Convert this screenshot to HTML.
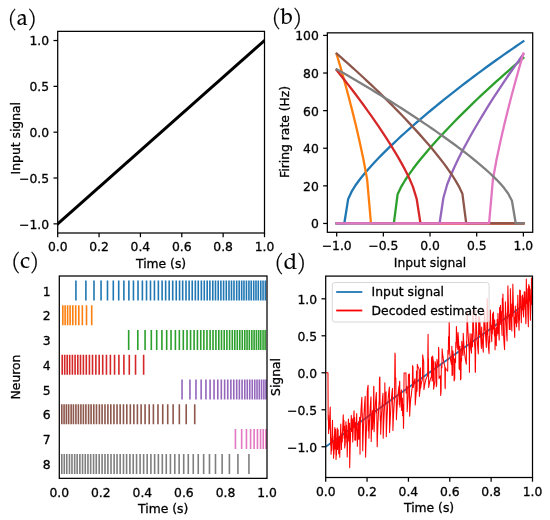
<!DOCTYPE html>
<html><head><meta charset="utf-8"><style>html,body{margin:0;padding:0;background:#fff;}svg{display:block;}</style></head>
<body>
<svg width="550" height="520" viewBox="0 0 550 520" font-family="DejaVu Sans, sans-serif" font-size="12.35">
<style>text{fill:#000;stroke:#000;stroke-width:0.3px;}</style>
<rect width="550" height="520" fill="#fff"/>
<clipPath id="ca"><rect x="57.7" y="31.35" width="206.8" height="201.65"/></clipPath>
<g clip-path="url(#ca)"><path d="M57.70 223.83 L264.50 40.52" stroke="#000" stroke-width="3" fill="none" stroke-linecap="square"/></g>
<rect x="57.7" y="31.35" width="206.8" height="201.65" fill="none" stroke="#000" stroke-width="1.25" stroke-linejoin="miter"/>
<line x1="57.7" y1="233" x2="57.7" y2="237.2" stroke="#000" stroke-width="1.25"/>
<text x="57.7" y="251" text-anchor="middle">0.0</text>
<line x1="99.06" y1="233" x2="99.06" y2="237.2" stroke="#000" stroke-width="1.25"/>
<text x="99.06" y="251" text-anchor="middle">0.2</text>
<line x1="140.42" y1="233" x2="140.42" y2="237.2" stroke="#000" stroke-width="1.25"/>
<text x="140.42" y="251" text-anchor="middle">0.4</text>
<line x1="181.78" y1="233" x2="181.78" y2="237.2" stroke="#000" stroke-width="1.25"/>
<text x="181.78" y="251" text-anchor="middle">0.6</text>
<line x1="223.14" y1="233" x2="223.14" y2="237.2" stroke="#000" stroke-width="1.25"/>
<text x="223.14" y="251" text-anchor="middle">0.8</text>
<line x1="264.5" y1="233" x2="264.5" y2="237.2" stroke="#000" stroke-width="1.25"/>
<text x="264.5" y="251" text-anchor="middle">1.0</text>
<line x1="53.5" y1="223.83" x2="57.7" y2="223.83" stroke="#000" stroke-width="1.25"/>
<text x="49.1" y="228.73" text-anchor="end">−1.0</text>
<line x1="53.5" y1="178" x2="57.7" y2="178" stroke="#000" stroke-width="1.25"/>
<text x="49.1" y="182.9" text-anchor="end">−0.5</text>
<line x1="53.5" y1="132.18" x2="57.7" y2="132.18" stroke="#000" stroke-width="1.25"/>
<text x="49.1" y="137.08" text-anchor="end">0.0</text>
<line x1="53.5" y1="86.35" x2="57.7" y2="86.35" stroke="#000" stroke-width="1.25"/>
<text x="49.1" y="91.25" text-anchor="end">0.5</text>
<line x1="53.5" y1="40.52" x2="57.7" y2="40.52" stroke="#000" stroke-width="1.25"/>
<text x="49.1" y="45.42" text-anchor="end">1.0</text>
<text x="161.1" y="267.8" text-anchor="middle">Time (s)</text>
<text transform="translate(20.4,138.2) rotate(-90)" text-anchor="middle">Input signal</text>
<clipPath id="cb"><rect x="327.35" y="32.85" width="205.35" height="199.45"/></clipPath>
<g clip-path="url(#cb)" fill="none" stroke-width="2.3" stroke-linecap="square" stroke-linejoin="round">
<path d="M336.68 223.46 L340.49 223.46 L344.30 223.46 L348.11 199.35 L351.92 191.07 L355.73 184.98 L359.54 179.72 L363.35 174.92 L367.16 170.42 L370.97 166.14 L374.78 162.03 L378.59 158.04 L382.40 154.17 L386.21 150.38 L390.02 146.68 L393.83 143.05 L397.64 139.48 L401.45 135.97 L405.26 132.51 L409.07 129.10 L412.88 125.74 L416.69 122.42 L420.50 119.13 L424.31 115.89 L428.12 112.68 L431.93 109.50 L435.74 106.36 L439.55 103.25 L443.36 100.17 L447.17 97.12 L450.98 94.09 L454.79 91.10 L458.60 88.13 L462.41 85.19 L466.22 82.27 L470.03 79.38 L473.84 76.51 L477.65 73.67 L481.46 70.85 L485.27 68.05 L489.08 65.28 L492.89 62.52 L496.70 59.79 L500.51 57.08 L504.32 54.39 L508.13 51.72 L511.94 49.07 L515.75 46.44 L519.56 43.83 L523.37 41.24" stroke="#1f77b4"/>
<path d="M336.68 54.21 L340.49 67.19 L344.30 80.67 L348.11 94.71 L351.92 109.37 L355.73 124.79 L359.54 141.16 L363.35 158.94 L367.16 179.63 L370.97 223.46 L374.78 223.46 L378.59 223.46 L382.40 223.46 L386.21 223.46 L390.02 223.46 L393.83 223.46 L397.64 223.46 L401.45 223.46 L405.26 223.46 L409.07 223.46 L412.88 223.46 L416.69 223.46 L420.50 223.46 L424.31 223.46 L428.12 223.46 L431.93 223.46 L435.74 223.46 L439.55 223.46 L443.36 223.46 L447.17 223.46 L450.98 223.46 L454.79 223.46 L458.60 223.46 L462.41 223.46 L466.22 223.46 L470.03 223.46 L473.84 223.46 L477.65 223.46 L481.46 223.46 L485.27 223.46 L489.08 223.46 L492.89 223.46 L496.70 223.46 L500.51 223.46 L504.32 223.46 L508.13 223.46 L511.94 223.46 L515.75 223.46 L519.56 223.46 L523.37 223.46" stroke="#ff7f0e"/>
<path d="M336.68 223.46 L340.49 223.46 L344.30 223.46 L348.11 223.46 L351.92 223.46 L355.73 223.46 L359.54 223.46 L363.35 223.46 L367.16 223.46 L370.97 223.46 L374.78 223.46 L378.59 223.46 L382.40 223.46 L386.21 223.46 L390.02 223.46 L393.83 223.46 L397.64 194.14 L401.45 186.34 L405.26 180.00 L409.07 174.32 L412.88 169.06 L416.69 164.07 L420.50 159.29 L424.31 154.67 L428.12 150.19 L431.93 145.82 L435.74 141.54 L439.55 137.35 L443.36 133.23 L447.17 129.19 L450.98 125.20 L454.79 121.28 L458.60 117.41 L462.41 113.59 L466.22 109.82 L470.03 106.10 L473.84 102.42 L477.65 98.78 L481.46 95.19 L485.27 91.63 L489.08 88.11 L492.89 84.63 L496.70 81.18 L500.51 77.77 L504.32 74.39 L508.13 71.04 L511.94 67.73 L515.75 64.45 L519.56 61.20 L523.37 57.97" stroke="#2ca02c"/>
<path d="M336.68 70.20 L340.49 74.93 L344.30 79.73 L348.11 84.59 L351.92 89.53 L355.73 94.54 L359.54 99.63 L363.35 104.80 L367.16 110.06 L370.97 115.41 L374.78 120.86 L378.59 126.42 L382.40 132.10 L386.21 137.92 L390.02 143.89 L393.83 150.04 L397.64 156.42 L401.45 163.08 L405.26 170.14 L409.07 177.81 L412.88 186.62 L416.69 198.95 L420.50 223.46 L424.31 223.46 L428.12 223.46 L431.93 223.46 L435.74 223.46 L439.55 223.46 L443.36 223.46 L447.17 223.46 L450.98 223.46 L454.79 223.46 L458.60 223.46 L462.41 223.46 L466.22 223.46 L470.03 223.46 L473.84 223.46 L477.65 223.46 L481.46 223.46 L485.27 223.46 L489.08 223.46 L492.89 223.46 L496.70 223.46 L500.51 223.46 L504.32 223.46 L508.13 223.46 L511.94 223.46 L515.75 223.46 L519.56 223.46 L523.37 223.46" stroke="#d62728"/>
<path d="M336.68 223.46 L340.49 223.46 L344.30 223.46 L348.11 223.46 L351.92 223.46 L355.73 223.46 L359.54 223.46 L363.35 223.46 L367.16 223.46 L370.97 223.46 L374.78 223.46 L378.59 223.46 L382.40 223.46 L386.21 223.46 L390.02 223.46 L393.83 223.46 L397.64 223.46 L401.45 223.46 L405.26 223.46 L409.07 223.46 L412.88 223.46 L416.69 223.46 L420.50 223.46 L424.31 223.46 L428.12 223.46 L431.93 223.46 L435.74 223.46 L439.55 223.46 L443.36 197.97 L447.17 184.53 L450.98 174.78 L454.79 166.23 L458.60 158.32 L462.41 150.84 L466.22 143.67 L470.03 136.75 L473.84 130.03 L477.65 123.49 L481.46 117.10 L485.27 110.85 L489.08 104.73 L492.89 98.73 L496.70 92.83 L500.51 87.04 L504.32 81.35 L508.13 75.75 L511.94 70.24 L515.75 64.81 L519.56 59.47 L523.37 54.21" stroke="#9467bd"/>
<path d="M336.68 53.65 L340.49 56.96 L344.30 60.30 L348.11 63.67 L351.92 67.08 L355.73 70.52 L359.54 74.00 L363.35 77.51 L367.16 81.05 L370.97 84.64 L374.78 88.26 L378.59 91.92 L382.40 95.63 L386.21 99.37 L390.02 103.16 L393.83 107.00 L397.64 110.88 L401.45 114.82 L405.26 118.81 L409.07 122.85 L412.88 126.96 L416.69 131.13 L420.50 135.37 L424.31 139.69 L428.12 144.10 L431.93 148.61 L435.74 153.23 L439.55 157.99 L443.36 162.92 L447.17 168.05 L450.98 173.47 L454.79 179.30 L458.60 185.81 L462.41 193.79 L466.22 223.46 L470.03 223.46 L473.84 223.46 L477.65 223.46 L481.46 223.46 L485.27 223.46 L489.08 223.46 L492.89 223.46 L496.70 223.46 L500.51 223.46 L504.32 223.46 L508.13 223.46 L511.94 223.46 L515.75 223.46 L519.56 223.46 L523.37 223.46" stroke="#8c564b"/>
<path d="M336.68 223.46 L340.49 223.46 L344.30 223.46 L348.11 223.46 L351.92 223.46 L355.73 223.46 L359.54 223.46 L363.35 223.46 L367.16 223.46 L370.97 223.46 L374.78 223.46 L378.59 223.46 L382.40 223.46 L386.21 223.46 L390.02 223.46 L393.83 223.46 L397.64 223.46 L401.45 223.46 L405.26 223.46 L409.07 223.46 L412.88 223.46 L416.69 223.46 L420.50 223.46 L424.31 223.46 L428.12 223.46 L431.93 223.46 L435.74 223.46 L439.55 223.46 L443.36 223.46 L447.17 223.46 L450.98 223.46 L454.79 223.46 L458.60 223.46 L462.41 223.46 L466.22 223.46 L470.03 223.46 L473.84 223.46 L477.65 223.46 L481.46 223.46 L485.27 223.46 L489.08 223.46 L492.89 179.54 L496.70 158.77 L500.51 140.92 L504.32 124.49 L508.13 109.01 L511.94 94.29 L515.75 80.20 L519.56 66.67 L523.37 53.65" stroke="#e377c2"/>
<path d="M336.68 69.26 L340.49 71.43 L344.30 73.62 L348.11 75.83 L351.92 78.05 L355.73 80.28 L359.54 82.53 L363.35 84.79 L367.16 87.07 L370.97 89.36 L374.78 91.67 L378.59 94.00 L382.40 96.34 L386.21 98.70 L390.02 101.07 L393.83 103.47 L397.64 105.88 L401.45 108.31 L405.26 110.76 L409.07 113.23 L412.88 115.73 L416.69 118.24 L420.50 120.78 L424.31 123.34 L428.12 125.92 L431.93 128.53 L435.74 131.16 L439.55 133.83 L443.36 136.52 L447.17 139.25 L450.98 142.01 L454.79 144.80 L458.60 147.64 L462.41 150.52 L466.22 153.45 L470.03 156.43 L473.84 159.48 L477.65 162.59 L481.46 165.79 L485.27 169.08 L489.08 172.50 L492.89 176.06 L496.70 179.82 L500.51 183.85 L504.32 188.32 L508.13 193.55 L511.94 200.79 L515.75 223.46 L519.56 223.46 L523.37 223.46" stroke="#7f7f7f"/>
</g>
<rect x="327.35" y="32.85" width="205.35" height="199.45" fill="none" stroke="#000" stroke-width="1.25" stroke-linejoin="miter"/>
<line x1="336.68" y1="232.3" x2="336.68" y2="236.5" stroke="#000" stroke-width="1.25"/>
<text x="336.68" y="250.3" text-anchor="middle">−1.0</text>
<line x1="383.35" y1="232.3" x2="383.35" y2="236.5" stroke="#000" stroke-width="1.25"/>
<text x="383.35" y="250.3" text-anchor="middle">−0.5</text>
<line x1="430.03" y1="232.3" x2="430.03" y2="236.5" stroke="#000" stroke-width="1.25"/>
<text x="430.03" y="250.3" text-anchor="middle">0.0</text>
<line x1="476.7" y1="232.3" x2="476.7" y2="236.5" stroke="#000" stroke-width="1.25"/>
<text x="476.7" y="250.3" text-anchor="middle">0.5</text>
<line x1="523.37" y1="232.3" x2="523.37" y2="236.5" stroke="#000" stroke-width="1.25"/>
<text x="523.37" y="250.3" text-anchor="middle">1.0</text>
<line x1="323.15" y1="223.46" x2="327.35" y2="223.46" stroke="#000" stroke-width="1.25"/>
<text x="318.75" y="228.36" text-anchor="end">0</text>
<line x1="323.15" y1="185.85" x2="327.35" y2="185.85" stroke="#000" stroke-width="1.25"/>
<text x="318.75" y="190.75" text-anchor="end">20</text>
<line x1="323.15" y1="148.24" x2="327.35" y2="148.24" stroke="#000" stroke-width="1.25"/>
<text x="318.75" y="153.14" text-anchor="end">40</text>
<line x1="323.15" y1="110.63" x2="327.35" y2="110.63" stroke="#000" stroke-width="1.25"/>
<text x="318.75" y="115.53" text-anchor="end">60</text>
<line x1="323.15" y1="73.02" x2="327.35" y2="73.02" stroke="#000" stroke-width="1.25"/>
<text x="318.75" y="77.92" text-anchor="end">80</text>
<line x1="323.15" y1="35.41" x2="327.35" y2="35.41" stroke="#000" stroke-width="1.25"/>
<text x="318.75" y="40.31" text-anchor="end">100</text>
<text x="430.03" y="267.1" text-anchor="middle">Input signal</text>
<text transform="translate(289,131.9) rotate(-90)" text-anchor="middle">Firing rate (Hz)</text>
<g stroke-width="1.6">
<path d="M75.92 280.50V300.50 M85.89 280.50V300.50 M93.99 280.50V300.50 M101.05 280.50V300.50 M107.49 280.50V300.50 M113.30 280.50V300.50 M118.70 280.50V300.50 M123.89 280.50V300.50 M128.88 280.50V300.50 M133.45 280.50V300.50 M138.02 280.50V300.50 M142.38 280.50V300.50 M146.53 280.50V300.50 M150.48 280.50V300.50 M154.43 280.50V300.50 M158.37 280.50V300.50 M162.11 280.50V300.50 M165.64 280.50V300.50 M169.17 280.50V300.50 M172.70 280.50V300.50 M176.24 280.50V300.50 M179.56 280.50V300.50 M182.67 280.50V300.50 M186.00 280.50V300.50 M189.11 280.50V300.50 M192.23 280.50V300.50 M195.34 280.50V300.50 M198.25 280.50V300.50 M201.37 280.50V300.50 M204.27 280.50V300.50 M207.18 280.50V300.50 M209.88 280.50V300.50 M212.79 280.50V300.50 M215.49 280.50V300.50 M218.19 280.50V300.50 M220.89 280.50V300.50 M223.59 280.50V300.50 M226.29 280.50V300.50 M228.99 280.50V300.50 M231.48 280.50V300.50 M233.98 280.50V300.50 M236.68 280.50V300.50 M239.17 280.50V300.50 M241.66 280.50V300.50 M243.95 280.50V300.50 M246.44 280.50V300.50 M248.93 280.50V300.50 M251.21 280.50V300.50 M253.71 280.50V300.50 M255.99 280.50V300.50 M258.28 280.50V300.50 M260.77 280.50V300.50 M263.05 280.50V300.50 M265.34 280.50V300.50" stroke="#1f77b4"/>
<path d="M62.83 305.27V325.27 M65.12 305.27V325.27 M67.61 305.27V325.27 M70.10 305.27V325.27 M72.80 305.27V325.27 M75.71 305.27V325.27 M78.82 305.27V325.27 M82.35 305.27V325.27 M86.51 305.27V325.27 M91.70 305.27V325.27" stroke="#ff7f0e"/>
<path d="M128.67 330.04V350.04 M137.81 330.04V350.04 M145.08 330.04V350.04 M151.31 330.04V350.04 M156.71 330.04V350.04 M161.90 330.04V350.04 M166.68 330.04V350.04 M171.04 330.04V350.04 M175.40 330.04V350.04 M179.35 330.04V350.04 M183.30 330.04V350.04 M187.04 330.04V350.04 M190.57 330.04V350.04 M194.10 330.04V350.04 M197.42 330.04V350.04 M200.74 330.04V350.04 M203.86 330.04V350.04 M206.97 330.04V350.04 M210.09 330.04V350.04 M213.00 330.04V350.04 M215.91 330.04V350.04 M218.81 330.04V350.04 M221.51 330.04V350.04 M224.21 330.04V350.04 M226.91 330.04V350.04 M229.61 330.04V350.04 M232.31 330.04V350.04 M234.81 330.04V350.04 M237.30 330.04V350.04 M239.79 330.04V350.04 M242.28 330.04V350.04 M244.78 330.04V350.04 M247.06 330.04V350.04 M249.35 330.04V350.04 M251.84 330.04V350.04 M254.12 330.04V350.04 M256.41 330.04V350.04 M258.69 330.04V350.04 M260.77 330.04V350.04 M263.05 330.04V350.04 M265.13 330.04V350.04" stroke="#2ca02c"/>
<path d="M62.21 354.81V374.81 M64.70 354.81V374.81 M67.19 354.81V374.81 M69.69 354.81V374.81 M72.39 354.81V374.81 M75.09 354.81V374.81 M77.79 354.81V374.81 M80.49 354.81V374.81 M83.39 354.81V374.81 M86.30 354.81V374.81 M89.42 354.81V374.81 M92.53 354.81V374.81 M95.86 354.81V374.81 M99.18 354.81V374.81 M102.71 354.81V374.81 M106.45 354.81V374.81 M110.39 354.81V374.81 M114.55 354.81V374.81 M118.91 354.81V374.81 M123.89 354.81V374.81 M129.29 354.81V374.81 M135.53 354.81V374.81 M143.63 354.81V374.81" stroke="#d62728"/>
<path d="M182.05 379.58V399.58 M189.94 379.58V399.58 M195.97 379.58V399.58 M201.16 379.58V399.58 M205.94 379.58V399.58 M210.09 379.58V399.58 M214.04 379.58V399.58 M217.78 379.58V399.58 M221.31 379.58V399.58 M224.63 379.58V399.58 M227.74 379.58V399.58 M230.86 379.58V399.58 M233.77 379.58V399.58 M236.68 379.58V399.58 M239.38 379.58V399.58 M242.08 379.58V399.58 M244.78 379.58V399.58 M247.27 379.58V399.58 M249.76 379.58V399.58 M252.25 379.58V399.58 M254.75 379.58V399.58 M257.03 379.58V399.58 M259.32 379.58V399.58 M261.60 379.58V399.58 M263.88 379.58V399.58 M265.96 379.58V399.58" stroke="#9467bd"/>
<path d="M61.79 404.35V424.35 M64.08 404.35V424.35 M66.36 404.35V424.35 M68.65 404.35V424.35 M71.14 404.35V424.35 M73.42 404.35V424.35 M75.92 404.35V424.35 M78.41 404.35V424.35 M80.90 404.35V424.35 M83.39 404.35V424.35 M85.89 404.35V424.35 M88.59 404.35V424.35 M91.08 404.35V424.35 M93.78 404.35V424.35 M96.48 404.35V424.35 M99.39 404.35V424.35 M102.09 404.35V424.35 M104.99 404.35V424.35 M107.90 404.35V424.35 M110.81 404.35V424.35 M113.93 404.35V424.35 M117.04 404.35V424.35 M120.16 404.35V424.35 M123.48 404.35V424.35 M126.80 404.35V424.35 M130.33 404.35V424.35 M133.86 404.35V424.35 M137.40 404.35V424.35 M141.13 404.35V424.35 M145.08 404.35V424.35 M149.23 404.35V424.35 M153.39 404.35V424.35 M157.96 404.35V424.35 M162.73 404.35V424.35 M167.72 404.35V424.35 M173.12 404.35V424.35 M179.35 404.35V424.35 M186.20 404.35V424.35 M194.72 404.35V424.35" stroke="#8c564b"/>
<path d="M235.43 429.12V449.12 M241.66 429.12V449.12 M246.44 429.12V449.12 M250.59 429.12V449.12 M254.12 429.12V449.12 M257.45 429.12V449.12 M260.56 429.12V449.12 M263.26 429.12V449.12 M265.96 429.12V449.12" stroke="#e377c2"/>
<path d="M61.79 453.89V473.89 M64.28 453.89V473.89 M66.78 453.89V473.89 M69.48 453.89V473.89 M71.97 453.89V473.89 M74.67 453.89V473.89 M77.16 453.89V473.89 M79.86 453.89V473.89 M82.56 453.89V473.89 M85.26 453.89V473.89 M87.96 453.89V473.89 M90.66 453.89V473.89 M93.57 453.89V473.89 M96.27 453.89V473.89 M99.18 453.89V473.89 M102.09 453.89V473.89 M104.99 453.89V473.89 M107.90 453.89V473.89 M111.02 453.89V473.89 M114.13 453.89V473.89 M117.04 453.89V473.89 M120.16 453.89V473.89 M123.48 453.89V473.89 M126.59 453.89V473.89 M129.92 453.89V473.89 M133.24 453.89V473.89 M136.56 453.89V473.89 M140.10 453.89V473.89 M143.63 453.89V473.89 M147.16 453.89V473.89 M150.90 453.89V473.89 M154.63 453.89V473.89 M158.37 453.89V473.89 M162.32 453.89V473.89 M166.27 453.89V473.89 M170.42 453.89V473.89 M174.78 453.89V473.89 M179.14 453.89V473.89 M183.71 453.89V473.89 M188.28 453.89V473.89 M193.27 453.89V473.89 M198.25 453.89V473.89 M203.65 453.89V473.89 M209.47 453.89V473.89 M215.49 453.89V473.89 M222.14 453.89V473.89 M229.41 453.89V473.89 M237.92 453.89V473.89 M248.93 453.89V473.89" stroke="#7f7f7f"/>
</g>
<rect x="59.3" y="276" width="207.7" height="202.35" fill="none" stroke="#000" stroke-width="1.25" stroke-linejoin="miter"/>
<text x="59.3" y="496.95" text-anchor="middle">0.0</text>
<text x="100.84" y="496.95" text-anchor="middle">0.2</text>
<text x="142.38" y="496.95" text-anchor="middle">0.4</text>
<text x="183.92" y="496.95" text-anchor="middle">0.6</text>
<text x="225.46" y="496.95" text-anchor="middle">0.8</text>
<text x="267" y="496.95" text-anchor="middle">1.0</text>
<text x="50.5" y="295.6" text-anchor="end">1</text>
<text x="50.5" y="320.37" text-anchor="end">2</text>
<text x="50.5" y="345.14" text-anchor="end">3</text>
<text x="50.5" y="369.91" text-anchor="end">4</text>
<text x="50.5" y="394.68" text-anchor="end">5</text>
<text x="50.5" y="419.45" text-anchor="end">6</text>
<text x="50.5" y="444.22" text-anchor="end">7</text>
<text x="50.5" y="468.99" text-anchor="end">8</text>
<text x="163.15" y="513.35" text-anchor="middle">Time (s)</text>
<text transform="translate(20,377) rotate(-90)" text-anchor="middle">Neuron</text>
<clipPath id="cd"><rect x="325.7" y="276.1" width="206.8" height="201.4"/></clipPath>
<g clip-path="url(#cd)" fill="none">
<path d="M325.70 446.76 L532.50 298.80" stroke="#1f77b4" stroke-width="1.8" stroke-linecap="square"/>
<path d="M325.70 372.78 L325.91 372.78 L326.11 372.78 L326.32 372.78 L326.53 372.78 L326.73 372.78 L326.94 372.78 L327.15 372.78 L327.35 372.78 L327.56 372.78 L327.77 372.78 L327.97 372.78 L328.18 419.63 L328.39 415.17 L328.60 433.48 L328.80 427.70 L329.01 422.48 L329.22 429.23 L329.42 423.86 L329.63 419.00 L329.84 414.60 L330.04 410.62 L330.25 407.02 L330.46 430.50 L330.66 445.12 L330.87 438.24 L331.08 454.35 L331.28 446.58 L331.49 451.04 L331.70 443.60 L331.90 436.86 L332.11 430.76 L332.32 425.24 L332.52 420.25 L332.73 442.47 L332.94 435.84 L333.14 449.95 L333.35 442.61 L333.56 458.30 L333.77 450.16 L333.97 454.28 L334.18 446.53 L334.39 439.51 L334.59 433.16 L334.80 427.41 L335.01 448.95 L335.21 441.70 L335.42 435.14 L335.63 429.21 L335.83 443.95 L336.04 459.52 L336.25 451.27 L336.45 455.28 L336.66 447.43 L336.87 440.32 L337.07 433.90 L337.28 428.08 L337.49 449.56 L337.69 442.25 L337.90 435.64 L338.11 429.66 L338.31 444.36 L338.52 437.55 L338.73 453.72 L338.94 446.02 L339.14 450.53 L339.35 443.13 L339.56 436.44 L339.76 457.12 L339.97 449.09 L340.18 441.83 L340.38 435.26 L340.59 429.31 L340.80 423.93 L341.00 439.18 L341.21 432.86 L341.42 449.48 L341.62 442.18 L341.83 435.58 L342.04 441.09 L342.24 441.91 L342.45 435.33 L342.66 429.38 L342.86 423.99 L343.07 419.12 L343.28 414.71 L343.48 430.83 L343.69 425.31 L343.90 420.31 L344.11 438.12 L344.31 431.91 L344.52 426.28 L344.73 447.93 L344.93 440.78 L345.14 445.79 L345.35 438.84 L345.55 432.55 L345.76 426.87 L345.97 421.72 L346.17 437.17 L346.38 431.05 L346.59 425.50 L346.79 442.82 L347.00 436.16 L347.21 456.87 L347.41 448.86 L347.62 441.62 L347.83 435.07 L348.03 429.14 L348.24 423.78 L348.45 418.93 L348.65 426.02 L348.86 441.07 L349.07 434.57 L349.28 428.69 L349.48 423.37 L349.69 467.63 L349.90 458.61 L350.10 450.44 L350.31 443.05 L350.52 436.36 L350.72 430.31 L350.93 424.84 L351.14 419.88 L351.34 415.40 L351.55 431.46 L351.76 425.87 L351.96 420.82 L352.17 423.57 L352.38 418.74 L352.58 436.70 L352.79 442.10 L353.00 435.50 L353.20 429.54 L353.41 424.13 L353.62 419.25 L353.82 414.83 L354.03 410.82 L354.24 427.32 L354.45 422.13 L354.65 417.43 L354.86 439.92 L355.07 433.53 L355.27 427.75 L355.48 422.52 L355.69 440.13 L355.89 433.72 L356.10 427.92 L356.31 422.67 L356.51 417.92 L356.72 413.63 L356.93 429.85 L357.13 424.42 L357.34 446.25 L357.55 439.26 L357.75 432.93 L357.96 438.69 L358.17 432.42 L358.37 426.74 L358.58 421.61 L358.79 439.30 L358.99 432.97 L359.20 427.24 L359.41 422.06 L359.62 417.37 L359.82 433.24 L360.03 454.23 L360.24 427.06 L360.44 421.89 L360.65 417.22 L360.86 412.99 L361.06 409.16 L361.27 405.70 L361.48 402.57 L361.68 399.73 L361.89 397.17 L362.10 417.19 L362.30 412.96 L362.51 429.25 L362.72 450.62 L362.92 443.21 L363.13 436.51 L363.34 430.44 L363.54 424.95 L363.75 419.99 L363.96 415.50 L364.16 411.43 L364.37 407.75 L364.58 404.43 L364.79 401.41 L364.99 398.69 L365.20 396.22 L365.41 436.45 L365.61 457.13 L365.82 449.10 L366.03 441.84 L366.23 435.27 L366.44 429.32 L366.65 423.94 L366.85 419.07 L367.06 414.66 L367.27 391.26 L367.47 389.50 L367.68 387.91 L367.89 386.47 L368.09 385.17 L368.30 430.84 L368.51 425.32 L368.71 420.32 L368.92 438.13 L369.13 431.91 L369.33 426.29 L369.54 421.19 L369.75 416.59 L369.96 412.42 L370.16 408.65 L370.37 405.23 L370.58 402.14 L370.78 399.35 L370.99 396.82 L371.20 441.39 L371.40 434.86 L371.61 428.95 L371.82 423.61 L372.02 418.77 L372.23 414.39 L372.44 410.43 L372.64 429.19 L372.85 423.82 L373.06 418.96 L373.26 414.57 L373.47 410.59 L373.68 387.57 L373.88 386.17 L374.09 431.75 L374.30 426.13 L374.50 421.06 L374.71 416.46 L374.92 412.31 L375.13 408.54 L375.33 405.14 L375.54 402.06 L375.75 399.27 L375.95 396.75 L376.16 394.47 L376.37 392.41 L376.57 412.88 L376.78 409.06 L376.99 432.35 L377.19 446.79 L377.40 439.75 L377.61 433.38 L377.81 427.61 L378.02 422.39 L378.23 417.67 L378.43 413.40 L378.64 409.53 L378.85 406.04 L379.05 402.87 L379.26 400.01 L379.47 378.00 L379.67 377.50 L379.88 377.05 L380.09 403.39 L380.30 420.59 L380.50 416.04 L380.71 434.26 L380.92 428.41 L381.12 423.12 L381.33 418.33 L381.54 413.99 L381.74 410.07 L381.95 406.52 L382.16 403.31 L382.36 400.40 L382.57 397.78 L382.78 395.40 L382.98 393.24 L383.19 438.15 L383.40 431.93 L383.60 426.30 L383.81 421.21 L384.02 416.60 L384.22 412.43 L384.43 408.66 L384.64 405.24 L384.84 382.73 L385.05 404.13 L385.26 401.14 L385.47 398.44 L385.67 396.00 L385.88 393.79 L386.09 391.79 L386.29 436.84 L386.50 430.74 L386.71 425.22 L386.91 420.23 L387.12 415.72 L387.33 411.63 L387.53 407.93 L387.74 404.59 L387.95 401.56 L388.15 398.82 L388.36 396.34 L388.57 394.10 L388.77 392.07 L388.98 390.24 L389.19 388.58 L389.39 387.07 L389.60 432.57 L389.81 426.88 L390.01 424.65 L390.22 419.71 L390.43 415.25 L390.64 411.21 L390.84 407.55 L391.05 404.24 L391.26 401.25 L391.46 398.54 L391.67 396.09 L391.88 393.87 L392.08 391.86 L392.29 390.05 L392.50 388.40 L392.70 407.03 L392.91 430.51 L393.12 425.02 L393.32 420.04 L393.53 415.55 L393.74 411.48 L393.94 407.79 L394.15 404.46 L394.36 401.45 L394.56 398.72 L394.77 372.50 L394.98 353.11 L395.18 354.98 L395.39 379.02 L395.60 378.42 L395.81 377.89 L396.01 397.51 L396.22 395.16 L396.43 419.77 L396.63 415.30 L396.84 411.25 L397.05 407.59 L397.25 404.28 L397.46 401.28 L397.67 398.57 L397.87 396.11 L398.08 393.89 L398.29 391.88 L398.49 390.07 L398.70 388.42 L398.91 386.93 L399.11 385.59 L399.32 404.48 L399.53 382.05 L399.73 381.16 L399.94 407.11 L400.15 403.84 L400.35 400.88 L400.56 398.21 L400.77 395.79 L400.98 393.60 L401.18 391.62 L401.39 389.82 L401.60 410.54 L401.80 406.95 L402.01 403.70 L402.22 400.75 L402.42 398.09 L402.63 415.80 L402.84 411.70 L403.04 408.00 L403.25 404.65 L403.46 428.35 L403.66 423.07 L403.87 394.53 L404.08 373.05 L404.28 373.02 L404.49 373.00 L404.70 372.98 L404.90 372.96 L405.11 372.94 L405.32 372.93 L405.52 372.91 L405.73 372.90 L405.94 372.89 L406.15 392.99 L406.35 391.07 L406.56 389.33 L406.77 387.75 L406.97 386.33 L407.18 411.78 L407.39 408.07 L407.59 404.71 L407.80 401.67 L408.01 398.92 L408.21 396.43 L408.42 374.76 L408.63 374.57 L408.83 374.40 L409.04 374.25 L409.25 374.11 L409.45 373.98 L409.66 416.32 L409.87 412.18 L410.07 408.43 L410.28 405.04 L410.49 401.97 L410.69 399.19 L410.90 396.68 L411.11 397.39 L411.32 395.05 L411.52 392.93 L411.73 391.01 L411.94 389.28 L412.14 387.71 L412.35 386.29 L412.56 365.58 L412.76 366.27 L412.97 366.89 L413.18 387.56 L413.38 386.16 L413.59 384.88 L413.80 383.73 L414.00 382.69 L414.21 381.75 L414.42 380.89 L414.62 380.12 L414.83 379.42 L415.04 378.79 L415.24 404.96 L415.45 401.90 L415.66 399.12 L415.86 396.62 L416.07 394.35 L416.28 392.30 L416.49 371.02 L416.69 371.19 L416.90 391.45 L417.11 389.68 L417.31 364.32 L417.52 365.13 L417.73 365.85 L417.93 366.51 L418.14 367.11 L418.35 367.65 L418.55 368.14 L418.76 368.58 L418.97 368.98 L419.17 369.34 L419.38 396.41 L419.59 394.16 L419.79 392.12 L420.00 390.28 L420.21 388.62 L420.41 367.69 L420.62 388.29 L420.83 386.81 L421.03 385.48 L421.24 384.27 L421.45 383.18 L421.66 382.19 L421.86 381.29 L422.07 380.48 L422.28 379.75 L422.48 379.09 L422.69 354.74 L422.90 356.46 L423.10 358.01 L423.31 359.41 L423.52 360.69 L423.72 361.84 L423.93 389.62 L424.14 388.02 L424.34 387.26 L424.55 385.88 L424.76 384.64 L424.96 383.51 L425.17 382.49 L425.38 381.56 L425.58 380.73 L425.79 379.97 L426.00 379.29 L426.20 378.67 L426.41 378.11 L426.62 377.60 L426.83 377.14 L427.03 376.73 L427.24 376.35 L427.45 376.01 L427.65 375.70 L427.86 351.68 L428.07 334.27 L428.27 358.05 L428.48 359.45 L428.69 387.46 L428.89 386.06 L429.10 384.80 L429.31 383.65 L429.51 382.62 L429.72 381.68 L429.93 380.83 L430.13 380.07 L430.34 379.37 L430.55 378.75 L430.75 378.18 L430.96 377.66 L431.17 377.20 L431.37 376.78 L431.58 356.98 L431.79 358.48 L432.00 359.84 L432.20 381.19 L432.41 380.39 L432.62 355.92 L432.82 357.52 L433.03 358.97 L433.24 360.29 L433.44 361.48 L433.65 389.29 L433.86 387.72 L434.06 386.30 L434.27 385.01 L434.48 383.85 L434.68 382.79 L434.89 381.84 L435.10 361.56 L435.30 362.63 L435.51 363.59 L435.72 364.47 L435.92 365.26 L436.13 365.97 L436.34 386.74 L436.54 385.41 L436.75 384.21 L436.96 359.37 L437.17 360.65 L437.37 361.80 L437.58 362.85 L437.79 363.79 L437.99 364.65 L438.20 365.42 L438.41 366.12 L438.61 347.34 L438.82 349.76 L439.03 378.69 L439.23 378.13 L439.44 377.62 L439.65 377.16 L439.85 376.74 L440.06 376.36 L440.27 376.02 L440.47 375.71 L440.68 395.55 L440.89 393.38 L441.09 391.42 L441.30 365.90 L441.51 366.55 L441.71 367.15 L441.92 367.68 L442.13 348.75 L442.34 351.04 L442.54 353.11 L442.75 354.98 L442.96 356.67 L443.16 358.20 L443.37 359.59 L443.58 360.85 L443.78 361.98 L443.99 363.01 L444.20 363.94 L444.40 364.78 L444.61 365.54 L444.82 366.23 L445.02 386.97 L445.23 388.61 L445.44 367.69 L445.64 368.17 L445.85 368.61 L446.06 369.01 L446.26 369.36 L446.47 369.69 L446.68 369.98 L446.88 370.25 L447.09 370.49 L447.30 370.71 L447.51 370.91 L447.71 371.08 L447.92 350.16 L448.13 352.31 L448.33 354.26 L448.54 336.60 L448.75 340.05 L448.95 343.16 L449.16 322.23 L449.37 327.04 L449.57 351.51 L449.78 353.53 L449.99 355.36 L450.19 357.02 L450.40 358.52 L450.61 359.88 L450.81 361.11 L451.02 362.22 L451.23 363.22 L451.43 364.13 L451.64 364.95 L451.85 346.28 L452.05 375.54 L452.26 375.28 L452.47 375.04 L452.68 374.83 L452.88 350.88 L453.09 352.97 L453.30 354.85 L453.50 356.56 L453.71 358.10 L453.92 359.50 L454.12 380.88 L454.33 380.11 L454.54 379.41 L454.74 378.78 L454.95 358.79 L455.16 360.12 L455.36 361.32 L455.57 362.41 L455.78 342.32 L455.98 345.21 L456.19 347.84 L456.40 326.46 L456.60 330.87 L456.81 334.86 L457.02 338.47 L457.22 341.73 L457.43 344.69 L457.64 347.36 L457.85 349.78 L458.05 332.55 L458.26 336.38 L458.47 339.84 L458.67 342.98 L458.88 345.81 L459.09 368.49 L459.29 368.90 L459.50 369.27 L459.71 369.60 L459.91 346.16 L460.12 348.69 L460.33 350.98 L460.53 379.80 L460.74 379.13 L460.95 378.53 L461.15 358.56 L461.36 359.91 L461.57 361.14 L461.77 341.16 L461.98 344.17 L462.19 346.89 L462.39 349.36 L462.60 351.58 L462.81 353.60 L463.02 355.43 L463.22 333.33 L463.43 337.08 L463.64 340.48 L463.84 343.56 L464.05 347.03 L464.26 349.48 L464.46 351.70 L464.67 353.70 L464.88 355.52 L465.08 357.16 L465.29 358.65 L465.50 359.99 L465.70 361.21 L465.91 362.31 L466.12 363.31 L466.32 364.21 L466.53 341.28 L466.74 344.28 L466.94 325.90 L467.15 310.94 L467.36 316.83 L467.56 322.15 L467.77 326.97 L467.98 331.33 L468.19 335.27 L468.39 338.84 L468.60 342.07 L468.81 345.00 L469.01 347.64 L469.22 350.03 L469.43 372.31 L469.63 348.61 L469.84 350.91 L470.05 333.57 L470.25 337.30 L470.46 340.68 L470.67 343.73 L470.87 346.50 L471.08 349.00 L471.29 351.26 L471.49 353.31 L471.70 334.08 L471.91 337.76 L472.11 341.09 L472.32 344.11 L472.53 346.84 L472.73 325.56 L472.94 310.63 L473.15 316.55 L473.36 321.90 L473.56 326.74 L473.77 331.12 L473.98 335.09 L474.18 338.67 L474.39 341.92 L474.60 344.86 L474.80 347.51 L475.01 349.92 L475.22 372.21 L475.42 372.26 L475.63 352.89 L475.84 309.95 L476.04 315.93 L476.25 321.34 L476.46 326.24 L476.66 330.66 L476.87 334.67 L477.08 338.30 L477.28 341.58 L477.49 344.55 L477.70 347.24 L477.90 349.67 L478.11 351.87 L478.32 353.86 L478.53 336.24 L478.73 315.97 L478.94 321.38 L479.15 326.27 L479.35 330.69 L479.56 334.70 L479.77 317.24 L479.97 322.52 L480.18 327.30 L480.39 331.63 L480.59 335.55 L480.80 339.09 L481.01 342.30 L481.21 345.89 L481.42 348.45 L481.63 327.02 L481.83 331.37 L482.04 335.31 L482.25 338.88 L482.45 342.11 L482.66 345.02 L482.87 347.67 L483.07 350.06 L483.28 352.22 L483.49 333.09 L483.70 336.87 L483.90 320.87 L484.11 325.81 L484.32 330.28 L484.52 310.57 L484.73 316.49 L484.94 321.85 L485.14 326.70 L485.35 331.08 L485.56 335.05 L485.76 338.64 L485.97 341.89 L486.18 344.83 L486.38 347.49 L486.59 330.48 L486.80 334.50 L487.00 317.06 L487.21 298.61 L487.42 305.67 L487.62 312.06 L487.83 337.95 L488.04 341.27 L488.24 344.26 L488.45 346.98 L488.66 349.43 L488.87 351.65 L489.07 353.66 L489.28 336.07 L489.49 339.56 L489.69 342.72 L489.90 321.83 L490.11 326.68 L490.31 309.98 L490.52 315.96 L490.73 321.37 L490.93 326.26 L491.14 330.69 L491.35 334.69 L491.55 338.32 L491.76 341.60 L491.97 325.14 L492.17 329.68 L492.38 333.78 L492.59 313.74 L492.79 319.36 L493.00 324.45 L493.21 329.04 L493.41 312.12 L493.62 317.89 L493.83 323.12 L494.04 327.84 L494.24 332.12 L494.45 335.99 L494.66 320.07 L494.86 325.09 L495.07 349.74 L495.28 328.19 L495.48 332.43 L495.69 336.27 L495.90 339.74 L496.10 342.89 L496.31 345.73 L496.52 327.22 L496.72 331.56 L496.93 335.48 L497.14 319.61 L497.34 324.67 L497.55 329.25 L497.76 333.39 L497.96 313.39 L498.17 319.04 L498.38 324.16 L498.58 328.78 L498.79 332.97 L499.00 336.76 L499.21 340.19 L499.41 322.20 L499.62 307.60 L499.83 313.80 L500.03 319.41 L500.24 324.49 L500.45 305.34 L500.65 311.76 L500.86 317.56 L501.07 311.31 L501.27 317.16 L501.48 322.45 L501.69 327.24 L501.89 331.58 L502.10 335.50 L502.31 298.54 L502.51 305.60 L502.72 312.00 L502.93 294.03 L503.13 301.53 L503.34 308.31 L503.55 334.56 L503.75 338.20 L503.96 341.49 L504.17 344.46 L504.38 347.16 L504.58 349.60 L504.79 332.38 L505.00 315.14 L505.20 320.63 L505.41 301.84 L505.62 308.59 L505.82 314.70 L506.03 320.23 L506.24 325.23 L506.44 329.75 L506.65 333.85 L506.86 337.55 L507.06 340.91 L507.27 313.01 L507.48 318.70 L507.68 302.76 L507.89 285.68 L508.10 293.97 L508.30 301.47 L508.51 308.25 L508.72 314.39 L508.92 319.95 L509.13 324.98 L509.34 329.53 L509.55 314.22 L509.75 319.80 L509.96 324.84 L510.17 329.40 L510.37 288.70 L510.58 296.70 L510.79 303.94 L510.99 310.49 L511.20 316.42 L511.41 321.78 L511.61 326.63 L511.82 331.02 L512.03 304.07 L512.23 310.61 L512.44 316.53 L512.65 298.13 L512.85 284.15 L513.06 292.58 L513.27 300.22 L513.47 307.12 L513.68 313.37 L513.89 319.02 L514.09 324.14 L514.30 328.77 L514.51 333.65 L514.72 337.37 L514.92 317.00 L515.13 322.31 L515.34 306.02 L515.54 312.38 L515.75 318.12 L515.96 323.32 L516.16 316.52 L516.37 321.88 L516.58 326.72 L516.78 311.68 L516.99 317.50 L517.20 322.76 L517.40 303.77 L517.61 310.34 L517.82 295.20 L518.02 302.58 L518.23 309.26 L518.44 315.30 L518.64 320.77 L518.85 325.72 L519.06 330.20 L519.26 314.83 L519.47 320.35 L519.68 290.08 L519.89 297.95 L520.09 305.07 L520.30 290.43 L520.51 298.27 L520.71 305.36 L520.92 311.77 L521.13 317.58 L521.33 322.83 L521.54 308.17 L521.75 314.32 L521.95 296.13 L522.16 303.43 L522.37 310.03 L522.57 294.91 L522.78 302.32 L522.99 297.52 L523.19 304.68 L523.40 311.16 L523.61 317.02 L523.81 302.91 L524.02 309.56 L524.23 291.83 L524.43 299.53 L524.64 306.50 L524.85 291.72 L525.06 299.44 L525.26 306.42 L525.47 312.73 L525.68 318.45 L525.88 323.62 L526.09 316.79 L526.30 278.95 L526.50 287.88 L526.71 295.96 L526.92 303.27 L527.12 288.80 L527.33 296.79 L527.54 304.02 L527.74 310.56 L527.95 316.48 L528.16 321.84 L528.36 326.69 L528.57 287.91 L528.78 284.48 L528.98 292.88 L529.19 300.48 L529.40 286.28 L529.60 294.51 L529.81 301.96 L530.02 308.70 L530.23 314.80 L530.43 320.31 L530.64 301.56 L530.85 288.92 L531.05 296.90 L531.26 304.12 L531.47 278.06 L531.67 287.07 L531.88 295.23 L532.09 302.61 L532.29 309.29 L532.50 315.33" stroke="#ff0000" stroke-width="1.05" stroke-linejoin="round"/>
</g>
<rect x="325.7" y="276.1" width="206.8" height="201.4" fill="none" stroke="#000" stroke-width="1.25" stroke-linejoin="miter"/>
<line x1="325.7" y1="477.5" x2="325.7" y2="481.7" stroke="#000" stroke-width="1.25"/>
<text x="325.7" y="495.5" text-anchor="middle">0.0</text>
<line x1="367.06" y1="477.5" x2="367.06" y2="481.7" stroke="#000" stroke-width="1.25"/>
<text x="367.06" y="495.5" text-anchor="middle">0.2</text>
<line x1="408.42" y1="477.5" x2="408.42" y2="481.7" stroke="#000" stroke-width="1.25"/>
<text x="408.42" y="495.5" text-anchor="middle">0.4</text>
<line x1="449.78" y1="477.5" x2="449.78" y2="481.7" stroke="#000" stroke-width="1.25"/>
<text x="449.78" y="495.5" text-anchor="middle">0.6</text>
<line x1="491.14" y1="477.5" x2="491.14" y2="481.7" stroke="#000" stroke-width="1.25"/>
<text x="491.14" y="495.5" text-anchor="middle">0.8</text>
<line x1="532.5" y1="477.5" x2="532.5" y2="481.7" stroke="#000" stroke-width="1.25"/>
<text x="532.5" y="495.5" text-anchor="middle">1.0</text>
<line x1="321.5" y1="446.76" x2="325.7" y2="446.76" stroke="#000" stroke-width="1.25"/>
<text x="317.1" y="451.66" text-anchor="end">−1.0</text>
<line x1="321.5" y1="409.77" x2="325.7" y2="409.77" stroke="#000" stroke-width="1.25"/>
<text x="317.1" y="414.67" text-anchor="end">−0.5</text>
<line x1="321.5" y1="372.78" x2="325.7" y2="372.78" stroke="#000" stroke-width="1.25"/>
<text x="317.1" y="377.68" text-anchor="end">0.0</text>
<line x1="321.5" y1="335.79" x2="325.7" y2="335.79" stroke="#000" stroke-width="1.25"/>
<text x="317.1" y="340.69" text-anchor="end">0.5</text>
<line x1="321.5" y1="298.8" x2="325.7" y2="298.8" stroke="#000" stroke-width="1.25"/>
<text x="317.1" y="303.7" text-anchor="end">1.0</text>
<text x="429.1" y="512.3" text-anchor="middle">Time (s)</text>
<text transform="translate(279.6,377) rotate(-90)" text-anchor="middle">Signal</text>
<rect x="332.3" y="282.5" width="156.8" height="39.5" rx="2.5" ry="2.5" fill="#fff" fill-opacity="0.8" stroke="#ccc" stroke-opacity="0.8" stroke-width="0.96"/>
<line x1="336.2" y1="292" x2="362.3" y2="292" stroke="#1f77b4" stroke-width="1.8"/>
<line x1="336.2" y1="310.5" x2="362.3" y2="310.5" stroke="#ff0000" stroke-width="1.8"/>
<text x="371.6" y="296.4">Input signal</text>
<text x="371.6" y="315.0">Decoded estimate</text>
<text x="7.3" y="24.7" font-family="TeX Gyre Pagella, Liberation Serif, serif" font-size="22" letter-spacing="-0.5" style="stroke-width:0.15px">(a)</text>
<text x="271.2" y="23.8" font-family="TeX Gyre Pagella, Liberation Serif, serif" font-size="22" letter-spacing="-0.5" style="stroke-width:0.15px">(b)</text>
<text x="10.8" y="267.9" font-family="TeX Gyre Pagella, Liberation Serif, serif" font-size="22" letter-spacing="-0.5" style="stroke-width:0.15px">(c)</text>
<text x="274.1" y="269.3" font-family="TeX Gyre Pagella, Liberation Serif, serif" font-size="22" letter-spacing="-0.5" style="stroke-width:0.15px">(d)</text>
</svg>
</body></html>
